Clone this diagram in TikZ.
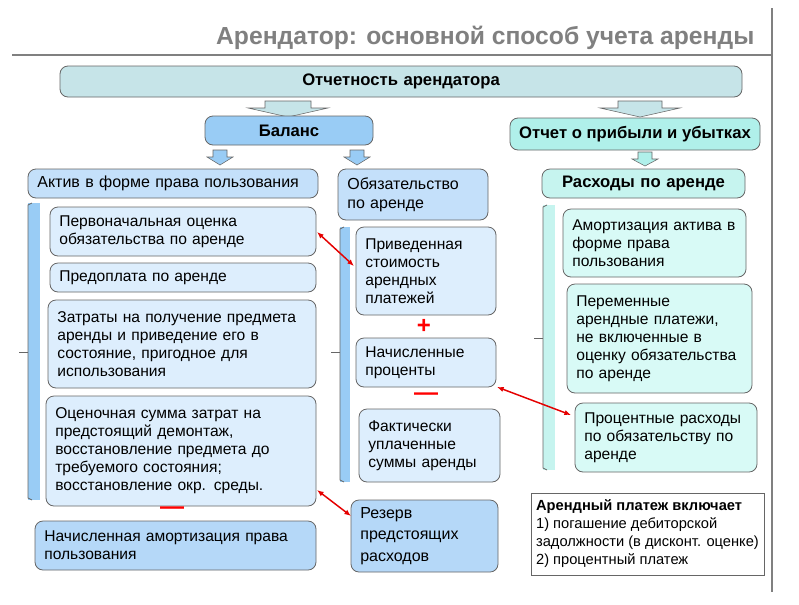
\documentclass[tikz,border=0pt]{standalone}
\usepackage{fontspec}
\setmainfont{Liberation Sans}
\usetikzlibrary{arrows.meta}
\definecolor{bord}{HTML}{666666}
\definecolor{topc}{HTML}{C6E4E8}
\definecolor{balc}{HTML}{99CCF5}
\definecolor{hdrc}{HTML}{C4E0FA}
\definecolor{litc}{HTML}{DDEEFD}
\definecolor{darkb}{HTML}{B5D8F8}
\definecolor{pnlc}{HTML}{B0F0EA}
\definecolor{expc}{HTML}{C6F4EF}
\definecolor{tlc}{HTML}{D8FAF6}
\tikzset{
  bx/.style={draw=bord, line width=0.6pt, rounded corners=6pt, align=left, inner xsep=7pt, inner ysep=1pt,
    font=\fontsize{11.7}{13.5}\selectfont},
  bxc/.style={bx, align=center, font=\fontsize{12.5}{14}\selectfont\bfseries},
  blk/.style={fill=#1, draw=bord, line width=0.4pt},
  redarr/.style={draw=red!90!black, line width=1.1pt, {Latex[length=5pt,width=4pt]}-{Latex[length=5pt,width=4pt]}},
  sign/.style={text=red, font=\fontsize{18}{18}\selectfont\bfseries}
}
\newcommand\bx[7]{%
  \pgfmathsetmacro\bw{(#4-#2)*0.75}%
  \pgfmathsetmacro\bh{(#5-#3)*0.75}%
  \pgfmathsetmacro\tw{\bw-14}%
  \node[minimum width=\bw pt, minimum height=\bh pt, text width=\tw pt, #6] (#1) at ({(#2+#4)/2},{(#3+#5)/2}) {#7};}
% block arrow: cx, ytop, halfshaft, halfhead, yhead, ybottom, color
\newcommand\barrow[7]{%
  \draw[blk=#7] (#1-#3,#2) -- (#1+#3,#2) -- (#1+#3,#5) -- (#1+#4,#5) -- (#1,#6) -- (#1-#4,#5) -- (#1-#3,#5) -- cycle;}
% brace bar: xleft, xright, ytop, ybottom, ytick, color
\newcommand\bbar[6]{%
  \fill[#6] (#1,#3) rectangle (#2,#4);
  \draw[bord, line width=0.6pt] (#1+4,#3) -- (#1,#3+2) -- (#1,#4-2) -- (#1+4,#4);
  \draw[bord, line width=0.6pt] (#1,#5) -- (#1-9,#5);}
\begin{document}
\begin{tikzpicture}[x=0.75pt,y=-0.75pt]
\useasboundingbox (0,0) rectangle (799,604);
\fill[white] (0,0) rectangle (799,604);
% title and frame lines
\node[anchor=base east, text=gray, font=\fontsize{18.5}{22}\selectfont\bfseries] (title) at (759,44) {Арендатор: основной способ учета аренды};
\draw[gray, line width=0.8pt] (12,55) -- (772,55);
\draw[gray, line width=0.8pt] (772,8) -- (772,592);
% top level
\bx{top}{60}{66}{742}{97}{bxc, fill=topc}{Отчетность арендатора}
\barrow{288}{101}{23}{40}{108}{117}{topc}
\barrow{640}{101}{22}{40}{108}{117}{topc}
\bx{bal}{205}{116}{373}{145}{bxc, fill=balc}{Баланс}
\bx{pnl}{510}{118}{760}{150}{bxc, fill=pnlc, inner xsep=2pt, text width=}{Отчет о прибыли и убытках}
\barrow{220}{150}{7}{13}{157}{165}{balc}
\barrow{357}{150}{7}{13}{157}{165}{balc}
\barrow{645}{152}{7}{13}{159}{166}{pnlc}
\bx{act}{28}{169}{318}{198}{bx, fill=hdrc, font=\fontsize{12}{13.5}\selectfont}{Актив в форме права пользования}
\bx{obl}{338}{169}{488}{220}{bx, fill=hdrc, font=\fontsize{12}{14.5}\selectfont}{Обязательство\\по аренде}
\bx{exp}{542}{169}{745}{198}{bxc, fill=expc}{Расходы по аренде}
% brace bars
\bbar{28}{40}{203}{500}{352}{balc}
\bbar{340}{350}{227}{482}{352}{balc}
\bbar{543}{555}{205}{470}{338}{expc}
% left column
\bx{b1}{50}{207}{316}{256}{bx, fill=litc}{Первоначальная оценка\\обязательства по аренде}
\bx{b2}{50}{263}{316}{292}{bx, fill=litc}{Предоплата по аренде}
\bx{b3}{48}{300}{316}{388}{bx, fill=litc}{Затраты на получение предмета\\аренды и приведение его в\\состояние, пригодное для\\использования}
\bx{b4}{46}{396}{316}{506}{bx, fill=litc}{Оценочная сумма затрат на\\предстоящий демонтаж,\\восстановление предмета до\\требуемого состояния;\\восстановление окр. среды.}
\node[sign] (m1) at (172,511) {—};
\bx{b5}{35}{521}{316}{570}{bx, fill=darkb}{Начисленная амортизация права\\пользования}
% middle column
\bx{pr}{356}{227}{496}{315}{bx, fill=litc}{Приведенная\\стоимость\\арендных\\платежей}
\node[sign] (p1) at (424,326) {+};
\bx{nach}{356}{338}{496}{387}{bx, fill=litc}{Начисленные\\проценты}
\node[sign] (m2) at (426,397) {—};
\bx{fakt}{359}{409}{500}{482}{bx, fill=litc}{Фактически\\уплаченные\\суммы аренды}
\bx{rez}{351}{500}{498}{572}{bx, fill=darkb, font=\fontsize{12}{16}\selectfont}{Резерв\\предстоящих\\расходов}
% right column
\bx{r1}{563}{209}{746}{277}{bx, fill=tlc}{Амортизация актива в\\форме права\\пользования}
\bx{r2}{567}{284}{752}{393}{bx, fill=tlc}{Переменные\\арендные платежи,\\не включенные в\\оценку обязательства\\по аренде}
\bx{r3}{575}{403}{757}{472}{bx, fill=tlc}{Процентные расходы\\по обязательству по\\аренде}
% note
\bx{note}{531}{493}{764}{575}{bx, fill=white, rounded corners=0pt, inner xsep=3pt, text width=, font=\fontsize{11}{13.5}\selectfont}{\textbf{Арендный платеж включает}\\1) погашение дебиторской\\задолжности (в дисконт. оценке)\\2) процентный платеж}
% red connectors
\coordinate (c1a) at (317,232); \coordinate (c1b) at (354,266);
\coordinate (c2a) at (497,387); \coordinate (c2b) at (571,415);
\coordinate (c3a) at (317,490); \coordinate (c3b) at (351,516);
\draw[redarr] (c1a) -- (c1b);
\draw[redarr] (c2a) -- (c2b);
\draw[redarr] (c3a) -- (c3b);
\end{tikzpicture}
\end{document}
